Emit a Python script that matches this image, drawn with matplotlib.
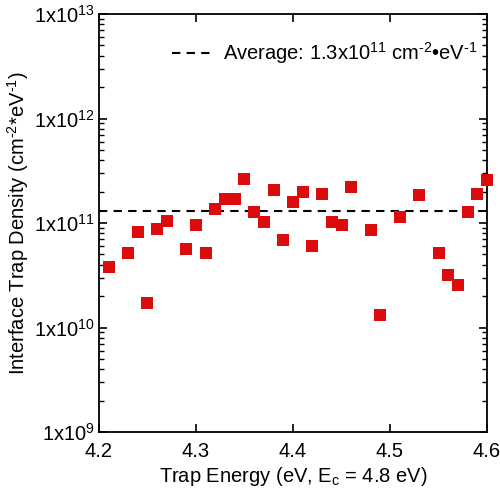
import matplotlib
matplotlib.use("Agg")
import matplotlib.pyplot as plt
from matplotlib.ticker import FixedLocator, LogLocator, NullFormatter

plt.rcParams['font.family'] = ['Liberation Sans', 'DejaVu Sans']
plt.rcParams['mathtext.fontset'] = 'custom'
plt.rcParams['mathtext.rm'] = 'Liberation Sans'
plt.rcParams['mathtext.it'] = 'Liberation Sans:italic'
plt.rcParams['mathtext.bf'] = 'Liberation Sans:bold'

energy = [4.21, 4.23, 4.24, 4.25, 4.26, 4.27, 4.29, 4.30, 4.31, 4.32, 4.33, 4.34,
          4.35, 4.36, 4.37, 4.38, 4.39, 4.40, 4.41, 4.42, 4.43, 4.44, 4.45, 4.46,
          4.48, 4.49, 4.51, 4.53, 4.55, 4.56, 4.57, 4.58, 4.59, 4.60]
density = [3.77e10, 5.17e10, 8.14e10, 1.72e10, 8.83e10, 1.04e11, 5.64e10, 9.5e10,
           5.2e10, 1.37e11, 1.70e11, 1.70e11, 2.65e11, 1.27e11, 1.02e11, 2.08e11,
           6.93e10, 1.59e11, 1.98e11, 5.98e10, 1.88e11, 1.02e11, 9.5e10, 2.19e11,
           8.64e10, 1.32e10, 1.13e11, 1.84e11, 5.17e10, 3.18e10, 2.55e10, 1.27e11,
           1.91e11, 2.58e11]
average = 1.3e11
xticks = [4.2, 4.3, 4.4, 4.5, 4.6]
yticks = [1e9, 1e10, 1e11, 1e12, 1e13]
ytick_labels = [r'1x10$^{9}$', r'1x10$^{10}$', r'1x10$^{11}$', r'1x10$^{12}$', r'1x10$^{13}$']

fig = plt.figure(figsize=(5, 5), dpi=100)
ax = fig.add_axes([0.198, 0.136, 0.776, 0.836])

ax.axhline(average, color='black', linestyle=(0, (4, 3)), linewidth=1.5,
           label=r'Average: 1.3x10$^{11}$ cm$^{\text{-2}}$•eV$^{\text{-1}}$', zorder=1)
ax.plot(energy, density, linestyle='none', marker='s', markersize=8.8,
        color='#dd0c0c', markeredgewidth=0, zorder=3, clip_on=False)

ax.set_yscale('log')
ax.set_xlim(4.2, 4.6)
ax.set_ylim(1e9, 1e13)
ax.xaxis.set_major_locator(FixedLocator(xticks))
ax.set_xticklabels([f'{t:.1f}' for t in xticks])
ax.yaxis.set_major_locator(FixedLocator(yticks))
ax.set_yticklabels(ytick_labels)
ax.yaxis.set_minor_locator(LogLocator(base=10, subs=range(2, 10), numticks=20))
ax.yaxis.set_minor_formatter(NullFormatter())

for s in ax.spines.values():
    s.set_linewidth(1.3)
ax.tick_params(which='major', direction='in', length=6, width=1.2, top=True, right=True,
               labelsize=14.5)
ax.tick_params(axis='x', which='major', pad=7)
ax.tick_params(axis='y', which='major', pad=3)
ax.tick_params(which='minor', direction='in', length=3.5, width=1.0, top=True, right=True)

ax.set_xlabel(r'Trap Energy (eV, E$_\mathrm{c}$ = 4.8 eV)', fontsize=14.5, labelpad=3)
ax.set_ylabel(r'Interface Trap Density (cm$^{\text{-2}}$*eV$^{\text{-1}}$)', fontsize=14.5, labelpad=2)

leg = ax.legend(loc='center right', bbox_to_anchor=(0.995, 0.906), frameon=False,
                fontsize=14.5, handlelength=2.0, handletextpad=0.5, borderaxespad=0.0)

fig.savefig('out.png', dpi=100)
